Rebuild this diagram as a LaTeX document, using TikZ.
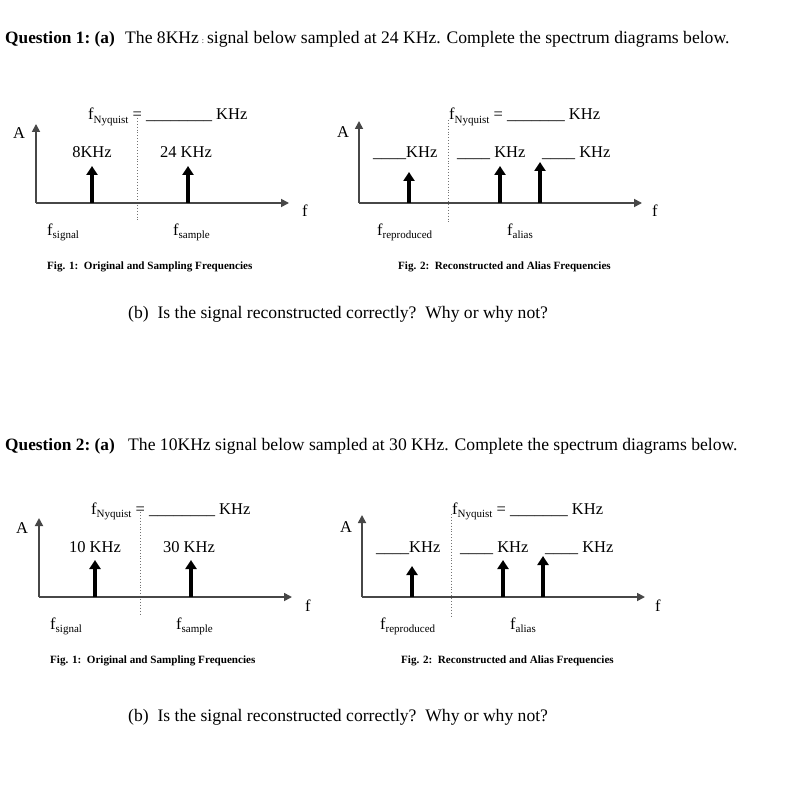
\documentclass[tikz,border=0pt]{standalone}
\usepackage{fontspec}
\setmainfont{Liberation Serif}
\usetikzlibrary{arrows.meta}

\newcommand{\fsub}[1]{f\raisebox{-3.5pt}{\fontsize{11}{12}\selectfont #1}}
\newcommand{\blank}[1]{\foreach \i in {1,...,#1}{\_}}

\tikzset{
	axis/.style={line width=1.7pt, draw=black!72, -{Triangle[length=8pt,width=8pt]}},
	spike/.style={line width=3.2pt, -{Triangle[length=9pt,width=11pt]}},
	divider/.style={dotted, draw=black!55, line width=0.9pt},
	lbl/.style={font=\fontsize{16.5}{18}\selectfont, inner sep=0pt, anchor=base west},
	hdr/.style={font=\fontsize{17.3}{20}\selectfont\bfseries, inner sep=0pt, anchor=base west},
	body/.style={font=\fontsize{17.6}{20}\selectfont, inner sep=0pt, anchor=base west},
	figcap/.style={font=\fontsize{11.1}{12}\selectfont\bfseries, inner sep=0pt, anchor=base west},
}

\begin{document}
\begin{tikzpicture}[x=1pt, y=-1pt, line join=round]
	\useasboundingbox (0,0) rectangle (800,802);
	
	% question 1
	\node[hdr] (q1) at (5,44) {Question 1:\ (a)};
	\node[body] (t1) at (125,44) {The 8KHz\,{\fontsize{8}{8}\selectfont :}\,signal below sampled at 24 KHz. Complete the spectrum diagrams below.};
	\node[body] (b1) at (128,318) {(b)\ \ Is the signal reconstructed correctly?\ \ Why or why not?};
	
	% question 2
	\node[hdr] (q2) at (5,450) {Question 2:\ (a)};
	\node[body] (t2) at (128,450) {The 10KHz signal below sampled at 30 KHz. Complete the spectrum diagrams below.};
	\node[body] (b2) at (128,721) {(b)\ \ Is the signal reconstructed correctly?\ \ Why or why not?};
	
	\foreach \dx/\dy/\fsig/\fsmp in {0/0/8KHz/24 KHz, 3/394/10 KHz/30 KHz} {
		\begin{scope}[shift={(\dx,\dy)}]
			% fig 1: original and sampling
			\coordinate (O) at (36,203);
			\coordinate (Y) at (36,124);
			\coordinate (X) at (289,203);
			\coordinate (Dt) at (137,118);
			\coordinate (Db) at (137,222);
			\coordinate (S1) at (92,203);
			\coordinate (S1') at (92,166);
			\coordinate (S2) at (188,203);
			\coordinate (S2') at (188,166);
			
			\draw[divider] (Dt)--(Db);
			\draw[axis] (O)--(Y);
			\draw[axis] (O)--(X);
			\draw[spike] (S1)--(S1');
			\draw[spike] (S2)--(S2');
			
			\node[lbl] (amp) at (13,139) {A};
			\node[lbl] (freq) at (302,217) {f};
			\node[lbl] (nyq) at (88,120) {\fsub{Nyquist} = \blank{8} KHz};
			\node[lbl, anchor=base] (sig) at (92,158) {\fsig};
			\node[lbl, anchor=base] (smp) at (186,158) {\fsmp};
			\node[lbl] (fsig) at (47,235) {\fsub{signal}};
			\node[lbl] (fsmp) at (173,235) {\fsub{sample}};
			\node[figcap] (cap1) at (47,269) {Fig. 1:\ \ Original and Sampling Frequencies};
			
			% fig 2: reconstructed and alias
			\coordinate (P) at (359,203);
			\coordinate (PY) at (359,121);
			\coordinate (PX) at (642,203);
			\coordinate (Et) at (448,120);
			\coordinate (Eb) at (448,222);
			\coordinate (R1) at (409,203);
			\coordinate (R1') at (409,172);
			\coordinate (R2) at (500,203);
			\coordinate (R2') at (500,166);
			\coordinate (R3) at (540,203);
			\coordinate (R3') at (540,162);
			
			\draw[divider] (Et)--(Eb);
			\draw[axis] (P)--(PY);
			\draw[axis] (P)--(PX);
			\draw[spike] (R1)--(R1');
			\draw[spike] (R2)--(R2');
			\draw[spike] (R3)--(R3');
			
			\node[lbl] (amp2) at (337,138) {A};
			\node[lbl] (freq2) at (652,217) {f};
			\node[lbl] (nyq2) at (449,120) {\fsub{Nyquist} = \blank{7} KHz};
			\node[lbl] (rep) at (373,158) {\blank{4}KHz};
			\node[lbl] (al1) at (457,158) {\blank{4} KHz};
			\node[lbl] (al2) at (542,158) {\blank{4} KHz};
			\node[lbl] (frep) at (377,235) {\fsub{reproduced}};
			\node[lbl] (fal) at (507,235) {\fsub{alias}};
			\node[figcap] (cap2) at (398,269) {Fig. 2:\ \ Reconstructed and Alias Frequencies};
		\end{scope}
	}
\end{tikzpicture}
\end{document}
